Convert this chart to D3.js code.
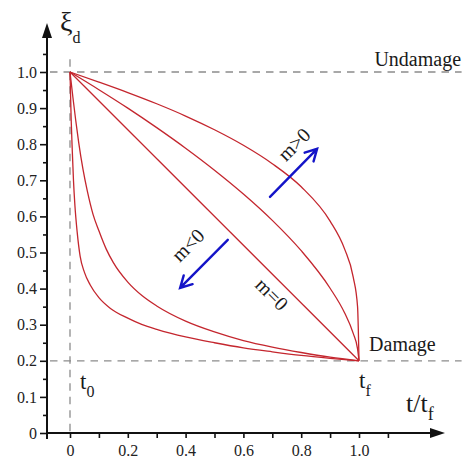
<!DOCTYPE html>
<html>
<head>
<meta charset="utf-8">
<script src="https://cdn.jsdelivr.net/npm/d3@7"></script>
<style>
  html, body { margin: 0; padding: 0; background: #fff; }
  svg { display: block; font-family: "Liberation Serif", "Times New Roman", serif; }
  svg text { font-family: "Liberation Serif", "Times New Roman", serif; }
</style>
</head>
<body>
<div id="vis-container"></div>
<script>
// normalised time t/tf
const tUpper = [0, 0.1, 0.2, 0.3, 0.4, 0.5, 0.6, 0.7, 0.8, 0.9, 0.95, 0.98, 0.995, 1.0]
const xiPosLarge = [1.0, 0.972, 0.943, 0.912, 0.878, 0.84, 0.797, 0.746, 0.682, 0.587, 0.51, 0.432, 0.35, 0.2]
const xiPosSmall = [1.0, 0.951, 0.90, 0.846, 0.789, 0.728, 0.662, 0.589, 0.505, 0.401, 0.333, 0.276, 0.233, 0.2]

const tZero = [0, 1.0]
const xiZero = [1.0, 0.2]

const tNegSmall = [0, 0.01, 0.02, 0.03, 0.045, 0.06, 0.08, 0.1, 0.125, 0.15, 0.2, 0.25, 0.3, 0.4, 0.5, 0.6, 0.7, 0.8, 0.9, 1.0]
const xiNegSmall = [1.0, 0.93, 0.865, 0.805, 0.73, 0.67, 0.605, 0.56, 0.51, 0.472, 0.418, 0.38, 0.352, 0.31, 0.28, 0.256, 0.238, 0.223, 0.21, 0.2]

const tNegLarge = [0, 0.004, 0.008, 0.012, 0.017, 0.025, 0.035, 0.05, 0.07, 0.1, 0.14, 0.2, 0.25, 0.3, 0.4, 0.5, 0.6, 0.7, 0.8, 0.9, 1.0]
const xiNegLarge = [1.0, 0.87, 0.78, 0.70, 0.63, 0.555, 0.49, 0.445, 0.41, 0.375, 0.345, 0.318, 0.30, 0.287, 0.266, 0.25, 0.236, 0.225, 0.215, 0.207, 0.2]

// ticks
const xTickValues = [0, 0.1, 0.2, 0.3, 0.4, 0.5, 0.6, 0.7, 0.8, 0.9, 1.0, 1.1]
const xTickLabels = ["0", "", "0.2", "", "0.4", "", "0.6", "", "0.8", "", "1.0", ""]
const yMajorValues = [0, 0.1, 0.2, 0.3, 0.4, 0.5, 0.6, 0.7, 0.8, 0.9, 1.0]
const yMajorLabels = ["0", "0.1", "0.2", "0.3", "0.4", "0.5", "0.6", "0.7", "0.8", "0.9", "1.0"]
const yMinorValues = [0.05, 0.15, 0.25, 0.35, 0.45, 0.55, 0.65, 0.75, 0.85, 0.95, 1.05]

// reference levels
const xiUndamage = 1.0
const xiDamage = 0.2

// annotation arrows (data units, start -> end)
const mPosArrow = [[0.692, 0.654], [0.855, 0.787]]
const mNegArrow = [[0.546, 0.535], [0.381, 0.402]]

////////////////////////////////////
///////////// SVG Setup ////////////
////////////////////////////////////

const svgWidth = 474
const svgHeight = 474
const serif = '"Liberation Serif", "Times New Roman", serif'

const svg = d3.select('#vis-container')
    .append('svg')
    .attr('width', svgWidth)
    .attr('height', svgHeight)

const xScale = d3.scaleLinear().domain([0, 1]).range([70, 359])
const yScale = d3.scaleLinear().domain([0, 1]).range([433, 72])

const axisX = 47      // where the vertical axis sits
const axisY = yScale(0)

////////////////////////////////////
////////// Dashed guides ///////////
////////////////////////////////////

const guides = svg.append('g')
    .attr('stroke', '#8c8c8c')
    .attr('stroke-width', 1.3)
    .attr('stroke-dasharray', '7.5,6')

guides.append('line')
    .attr('x1', axisX + 3).attr('x2', xScale(1.355))
    .attr('y1', yScale(xiUndamage)).attr('y2', yScale(xiUndamage))
guides.append('line')
    .attr('x1', axisX + 3).attr('x2', xScale(1.355))
    .attr('y1', yScale(xiDamage)).attr('y2', yScale(xiDamage))
guides.append('line')
    .attr('x1', xScale(0)).attr('x2', xScale(0))
    .attr('y1', yScale(1.035)).attr('y2', axisY)

////////////////////////////////////
////////////// Axis ////////////////
////////////////////////////////////

const xAxis = d3.axisBottom(xScale)
    .tickValues(xTickValues)
    .tickSize(5)
    .tickPadding(7)
    .tickFormat((d, i) => xTickLabels[i])

const yAxisMajor = d3.axisLeft(yScale)
    .tickValues(yMajorValues)
    .tickSize(7)
    .tickPadding(3)
    .tickFormat((d, i) => yMajorLabels[i])

const yAxisMinor = d3.axisLeft(yScale)
    .tickValues(yMinorValues)
    .tickSize(4)
    .tickFormat('')

const gx = svg.append('g').attr('transform', `translate(0,${axisY})`).call(xAxis)
const gy = svg.append('g').attr('transform', `translate(${axisX},0)`).call(yAxisMajor)
const gy2 = svg.append('g').attr('transform', `translate(${axisX},0)`).call(yAxisMinor)

;[gx, gy, gy2].forEach(g => {
    g.attr('font-family', serif).attr('font-size', 16)
    g.select('.domain').remove()
    g.selectAll('.tick line').attr('stroke', '#111').attr('stroke-width', 1.6)
    g.selectAll('.tick text')
        .attr('fill', '#222')
        .style('font-family', serif)
        .style('font-size', '16px')
})

// axis lines with arrow heads
svg.append('line')
    .attr('x1', axisX).attr('x2', axisX)
    .attr('y1', axisY + 6).attr('y2', 34)
    .attr('stroke', '#111').attr('stroke-width', 2)
svg.append('path')
    .attr('d', `M${axisX},23 L${axisX - 5},38 L${axisX + 5},38 Z`)
    .attr('fill', '#111')

svg.append('line')
    .attr('x1', axisX).attr('x2', 436)
    .attr('y1', axisY).attr('y2', axisY)
    .attr('stroke', '#111').attr('stroke-width', 2)
svg.append('path')
    .attr('d', `M445,${axisY} L430,${axisY - 5} L430,${axisY + 5} Z`)
    .attr('fill', '#111')

////////////////////////////////////
///////////// Curves ///////////////
////////////////////////////////////

const curves = [
    { t: tNegLarge, xi: xiNegLarge },
    { t: tNegSmall, xi: xiNegSmall },
    { t: tZero, xi: xiZero },
    { t: tUpper, xi: xiPosSmall },
    { t: tUpper, xi: xiPosLarge }
]

const line = d3.line()
    .x(d => xScale(d[0]))
    .y(d => yScale(d[1]))
    .curve(d3.curveMonotoneX)

svg.append('g')
    .selectAll('path')
    .data(curves)
    .join('path')
    .attr('d', c => line(c.t.map((t, i) => [t, c.xi[i]])))
    .attr('fill', 'none')
    .attr('stroke', '#c4262e')
    .attr('stroke-width', 1.3)

////////////////////////////////////
//////////// Arrows ////////////////
////////////////////////////////////

function drawArrow(pts) {
    const x1 = xScale(pts[0][0]), y1 = yScale(pts[0][1])
    const x2 = xScale(pts[1][0]), y2 = yScale(pts[1][1])
    const ang = Math.atan2(y2 - y1, x2 - x1)
    const len = 13, spread = 0.5
    const a1 = [x2 - len * Math.cos(ang - spread), y2 - len * Math.sin(ang - spread)]
    const a2 = [x2 - len * Math.cos(ang + spread), y2 - len * Math.sin(ang + spread)]
    svg.append('path')
        .attr('d', `M${x1},${y1} L${x2},${y2} M${a1[0]},${a1[1]} L${x2},${y2} L${a2[0]},${a2[1]}`)
        .attr('fill', 'none')
        .attr('stroke', '#1414c8')
        .attr('stroke-width', 2.4)
        .attr('stroke-linecap', 'round')
        .attr('stroke-linejoin', 'miter')
}

drawArrow(mPosArrow)
drawArrow(mNegArrow)

////////////////////////////////////
//////////// Labels ////////////////
////////////////////////////////////

const txt = (x, y, s, size, anchor) => svg.append('text')
    .attr('x', x).attr('y', y)
    .attr('font-size', size)
    .attr('fill', '#1a1a1a')
    .attr('text-anchor', anchor || 'start')
    .text(s)

txt(xScale(1.353), yScale(1.017), 'Undamage', '20px', 'end')
txt(xScale(1.035), yScale(0.227), 'Damage', '20px')

// axis titles
const yTitle = svg.append('text').attr('x', 60).attr('y', 31).attr('fill', '#1a1a1a')
yTitle.append('tspan').attr('font-size', '28px').text('ξ')
yTitle.append('tspan').attr('font-size', '16px').attr('dy', 12).text('d')

const xTitle = svg.append('text').attr('x', 406).attr('y', 412).attr('fill', '#1a1a1a')
xTitle.append('tspan').attr('font-size', '26px').text('t/t')
xTitle.append('tspan').attr('font-size', '18px').attr('dy', 8).text('f')

const t0 = svg.append('text').attr('x', xScale(0.035)).attr('y', yScale(0.122)).attr('fill', '#1a1a1a')
t0.append('tspan').attr('font-size', '23px').text('t')
t0.append('tspan').attr('font-size', '16px').attr('dy', 8).text('0')

const tf = svg.append('text').attr('x', xScale(1.0)).attr('y', yScale(0.125)).attr('fill', '#1a1a1a')
tf.append('tspan').attr('font-size', '23px').text('t')
tf.append('tspan').attr('font-size', '16px').attr('dy', 8).text('f')

// rotated m labels
const mLabels = [
    { s: 'm>0', t: 0.775, xi: 0.80, rot: -45 },
    { s: 'm<0', t: 0.408, xi: 0.521, rot: -45 },
    { s: 'm=0', t: 0.699, xi: 0.385, rot: 45 }
]

svg.append('g')
    .selectAll('text')
    .data(mLabels)
    .join('text')
    .attr('transform', d => `translate(${xScale(d.t)},${yScale(d.xi)}) rotate(${d.rot})`)
    .attr('text-anchor', 'middle')
    .attr('dy', '0.35em')
    .attr('font-size', '20px')
    .attr('fill', '#1a1a1a')
    .text(d => d.s)
</script>
</body>
</html>
